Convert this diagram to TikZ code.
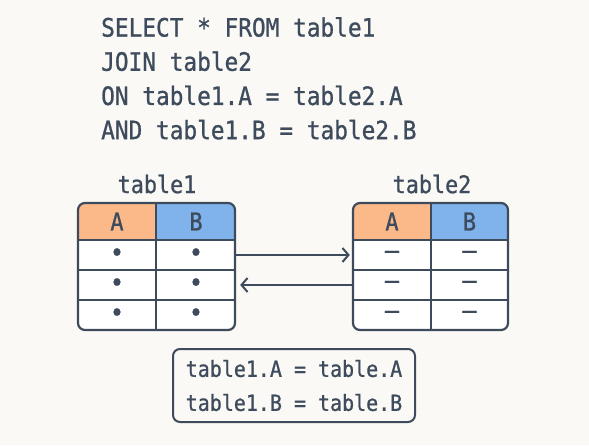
\documentclass[tikz,border=0pt]{standalone}
\usepackage{fontspec}
\newfontfamily\codefont[FakeBold=0.9,FakeStretch=0.9]{DejaVu Sans Mono}
\usepackage{tikz}
\usetikzlibrary{arrows.meta,positioning}
\definecolor{Paper}{HTML}{FAF9F5}
\definecolor{Ink}{HTML}{3D4B5C}
\definecolor{KeyA}{HTML}{FBB98A}
\definecolor{KeyB}{HTML}{80B2EC}
\begin{document}
\begin{tikzpicture}[x=1pt,y=-1pt,
  cell/.style={rectangle,minimum width=78pt,minimum height=30pt,inner sep=0pt,
    font=\codefont\fontsize{26}{26}\selectfont,text=Ink},
  head/.style={cell,minimum height=37pt,font=\codefont\fontsize{24.5}{24.5}\selectfont},
  grid/.style={draw=Ink,line width=2.2pt},
  arr/.style={-{Straight Barb[length=6pt,width=14pt]},line width=2pt,color=Ink}]
  \fill[Paper] (0,0) rectangle (589,445);
  \useasboundingbox (0,0) rectangle (589,445);
  % query text
  \node[anchor=north west,align=left,inner sep=0pt,text=Ink,
    font=\codefont\fontsize{25.3}{34.2}\selectfont] (sql) at (101,17)
    {SELECT * FROM table1\\JOIN table2\\ON table1.A = table2.A\\AND table1.B = table2.B};
  % table1
  \begin{scope}
    \clip[rounded corners=7pt] (78,203) rectangle (235,330);
    \fill[KeyA] (78,203) rectangle (156,240);
    \fill[KeyB] (156,203) rectangle (235,240);
    \fill[white] (78,240) rectangle (235,330);
  \end{scope}
  \draw[grid] (156,203) -- (156,330);
  \draw[grid] (78,240) -- (235,240);
  \draw[grid] (78,270) -- (235,270);
  \draw[grid] (78,300) -- (235,300);
  \draw[grid,rounded corners=7pt] (78,203) rectangle (235,330);
  \node[font=\codefont\fontsize{24.2}{24.2}\selectfont,text=Ink] (t1name) at (157,184) {table1};
  \node[head] (t1hA) at (117,221.5) {A};
  \node[head] (t1hB) at (196,221.5) {B};
  \node[cell] (t1r1a) at (117,255) {•};
  \node[cell] (t1r1b) at (196,255) {•};
  \node[cell] (t1r2a) at (117,285) {•};
  \node[cell] (t1r2b) at (196,285) {•};
  \node[cell] (t1r3a) at (117,315) {•};
  \node[cell] (t1r3b) at (196,315) {•};
  % table2
  \begin{scope}
    \clip[rounded corners=7pt] (353,203) rectangle (508,330);
    \fill[KeyA] (353,203) rectangle (431,240);
    \fill[KeyB] (431,203) rectangle (508,240);
    \fill[white] (353,240) rectangle (508,330);
  \end{scope}
  \draw[grid] (431,203) -- (431,330);
  \draw[grid] (353,240) -- (508,240);
  \draw[grid] (353,270) -- (508,270);
  \draw[grid] (353,300) -- (508,300);
  \draw[grid,rounded corners=7pt] (353,203) rectangle (508,330);
  \node[font=\codefont\fontsize{24.2}{24.2}\selectfont,text=Ink] (t2name) at (432,184) {table2};
  \node[head] (t2hA) at (392,221.5) {A};
  \node[head] (t2hB) at (469.5,221.5) {B};
  \node[cell] (t2r1a) at (392,255) {–};
  \node[cell] (t2r1b) at (469.5,255) {–};
  \node[cell] (t2r2a) at (392,285) {–};
  \node[cell] (t2r2b) at (469.5,285) {–};
  \node[cell] (t2r3a) at (392,315) {–};
  \node[cell] (t2r3b) at (469.5,315) {–};
  % join arrows
  \draw[arr,shorten <=1pt,shorten >=3pt] (t1r1b.east) -- (t2r1a.west);
  \draw[arr,shorten <=1pt,shorten >=5pt] (t2r2a.west) -- (t1r2b.east);
  % condition box
  \node[draw=Ink,line width=2pt,rounded corners=7pt,minimum width=242pt,
    minimum height=73pt,align=center,text=Ink,
    font=\codefont\fontsize{22.2}{34}\selectfont] (cond) at (294,385.5)
    {table1.A = table.A\\table1.B = table.B};
\end{tikzpicture}
\end{document}
